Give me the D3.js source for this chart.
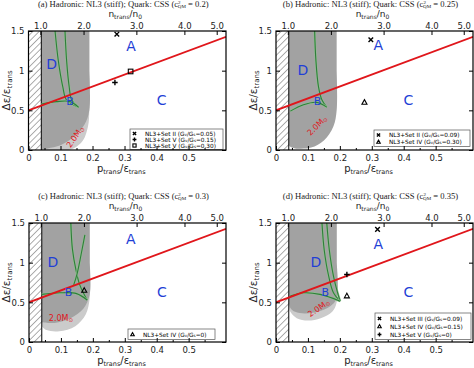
<!DOCTYPE html>
<html><head><meta charset="utf-8">
<script src="https://cdn.jsdelivr.net/npm/d3@7"></script>
<style>
body{margin:0;background:#fff;}
svg{display:block;}
</style></head>
<body>
<svg id="c" width="474" height="368"></svg>
<script>
// ---------- data ----------
const panelIds = ["a","b","c","d"];
const c2Values = ["0.2","0.25","0.3","0.35"];
const xTicks = [0,0.1,0.2,0.3,0.4,0.5];
const xMinorTicks = [0.05,0.15,0.25,0.35,0.45,0.55];
const yTicks = [0,0.5,1,1.5];
const yTickLabels = ["0","0.5","1","1.5"];
const nTickLabels = ["1.0","2.0","3.0","4.0","5.0"];
const nTickPos = [0.037,0.172,0.337,0.487,0.588];   // p/eps position of each n_trans/n0 tick
const xMax = 0.617, yMax = 1.5;
const hatchEdge = 0.04;
const seidovIntercept = 0.5, seidovSlope = 1.5;

// lower (curved) boundary of grey regions, from the right edge down and round to the left edge
const lightGrey = [
  [[0.19,1.0],[0.19,0.5],[0.186,0.3],[0.17,0.12],[0.14,0.02],[0.09,-0.02],[0.04,-0.05]],
  null,
  [[0.19,1.0],[0.19,0.55],[0.178,0.35],[0.145,0.2],[0.095,0.135],[0.055,0.15],[0.04,0.2]],
  [[0.19,1.0],[0.19,0.5],[0.176,0.38],[0.14,0.3],[0.1,0.27],[0.065,0.3],[0.045,0.38],[0.04,0.45]]
];
const darkGrey = [
  [[0.19,1.0],[0.19,0.5],[0.175,0.32],[0.14,0.16],[0.1,0.06],[0.06,0.02],[0.04,0.0]],
  [[0.19,1.0],[0.19,0.5],[0.18,0.3],[0.15,0.12],[0.11,0.03],[0.06,0.02],[0.045,0.04],[0.04,0.06]],
  [[0.19,1.0],[0.19,0.6],[0.17,0.42],[0.13,0.3],[0.08,0.24],[0.04,0.25]],
  [[0.19,1.0],[0.19,0.55],[0.17,0.45],[0.13,0.38],[0.09,0.36],[0.06,0.38],[0.045,0.43],[0.04,0.5]]
];
const greenCurves = [
  [ [[0.083,1.5],[0.093,1.13],[0.107,0.8],[0.119,0.63],[0.156,0.54]],
    [[0.114,1.5],[0.119,1.13],[0.127,0.8],[0.135,0.63],[0.156,0.54]],
    [[0.041,0.58],[0.088,0.61],[0.13,0.61],[0.156,0.54]] ],
  [ [[0.121,1.5],[0.125,1.13],[0.133,0.8],[0.144,0.63],[0.159,0.54]],
    [[0.045,0.49],[0.086,0.57],[0.128,0.6],[0.159,0.54]] ],
  [ [[0.131,1.5],[0.136,1.17],[0.147,0.91],[0.159,0.72],[0.182,0.53]],
    [[0.175,1.35],[0.163,1.1],[0.15,0.85],[0.14,0.72]],
    [[0.04,0.6],[0.097,0.62],[0.149,0.61],[0.182,0.53]] ],
  [ [[0.144,1.5],[0.151,1.16],[0.165,0.83],[0.18,0.62],[0.201,0.515]],
    [[0.159,1.5],[0.167,1.16],[0.18,0.83],[0.193,0.62],[0.201,0.515]],
    [[0.045,0.58],[0.086,0.62],[0.138,0.6],[0.201,0.515]] ]
];
// region letters: [letter, x, y]
const regionLetters = [
  [["A",0.32,1.3],["D",0.072,1.07],["B",0.13,0.6],["C",0.416,0.62]],
  [["A",0.32,1.31],["D",0.084,1.0],["B",0.13,0.6],["C",0.415,0.62]],
  [["A",0.319,1.28],["D",0.075,1.0],["B",0.124,0.62],["C",0.416,0.62]],
  [["A",0.32,1.22],["D",0.125,1.0],["B",0.154,0.62],["C",0.415,0.62]]
];
// 2.0 Msun label: [x, y, rotation]
const massLabel = [[0.145,0.17,-55],[0.128,0.31,-45],[0.1,0.3,0],[0.133,0.43,-35]];
// markers: [symbol, x, y]
const markers = [
  [["x",0.276,1.46],["+",0.27,0.85],["s",0.319,0.99]],
  [["x",0.297,1.39],["t",0.277,0.6]],
  [["t",0.173,0.65]],
  [["x",0.318,1.42],["+",0.222,0.85],["t",0.222,0.58]]
];
// legend entries: [symbol, set name, Gv/Gs]
const legends = [
  [["x","NL3+Set II","0.05"],["+","NL3+Set V","0.15"],["s","NL3+Set V","0.30"]],
  [["x","NL3+Set II","0.09"],["t","NL3+Set IV","0.30"]],
  [["t","NL3+Set IV","0"]],
  [["x","NL3+Set III","0.09"],["t","NL3+Set IV","0.15"],["+","NL3+Set V","0"]]
];
// ---------- layout ----------
const boxes = [
  {L:28.5,R:226,T:31,B:150},
  {L:276,R:473,T:31,B:150},
  {L:29,R:226,T:223,B:342},
  {L:276,R:473,T:223,B:342}
];
const legendBoxes = [
  {x:130,y:129,w:93,row:6},
  {x:374,y:130,w:96,row:7},
  {x:128,y:329,w:87,row:8},
  {x:375,y:313,w:96,row:8}
];

const svg = d3.select("#c");
const defs = svg.append("defs");
const pat = defs.append("pattern").attr("id","hatch").attr("patternUnits","userSpaceOnUse")
  .attr("width",4.5).attr("height",4.5).attr("patternTransform","rotate(45)");
pat.append("rect").attr("width",4.5).attr("height",4.5).attr("fill","#fff");
pat.append("line").attr("x1",0).attr("y1",0).attr("x2",0).attr("y2",4.5).attr("stroke","#333").attr("stroke-width",0.8);

function drawMarker(g, sym, cx, cy, s){
  if(sym==="x"){
    g.append("path").attr("d",`M${cx-s},${cy-s}L${cx+s},${cy+s}M${cx-s},${cy+s}L${cx+s},${cy-s}`)
      .attr("stroke","#000").attr("stroke-width",1.4);
  } else if(sym==="+"){
    g.append("path").attr("d",`M${cx-s*1.2},${cy}L${cx+s*1.2},${cy}M${cx},${cy-s*1.2}L${cx},${cy+s*1.2}`)
      .attr("stroke","#000").attr("stroke-width",1.4);
  } else if(sym==="s"){
    g.append("rect").attr("x",cx-s).attr("y",cy-s).attr("width",2*s).attr("height",2*s)
      .attr("fill","none").attr("stroke","#000").attr("stroke-width",1.1);
  } else if(sym==="t"){
    g.append("path").attr("d",`M${cx},${cy-s*1.2}L${cx+s*1.1},${cy+s*0.8}L${cx-s*1.1},${cy+s*0.8}Z`)
      .attr("fill","none").attr("stroke","#000").attr("stroke-width",1.1);
  }
}

panelIds.forEach((pid,i)=>{
  const b = boxes[i];
  const x = d3.scaleLinear().domain([0,xMax]).range([b.L,b.R]);
  const y = d3.scaleLinear().domain([0,yMax]).range([b.B,b.T]);
  const g = svg.append("g");
  const clipId = "clip"+pid;
  defs.append("clipPath").attr("id",clipId).append("rect")
    .attr("x",b.L).attr("y",b.T).attr("width",b.R-b.L).attr("height",b.B-b.T);
  const pg = g.append("g").attr("clip-path",`url(#${clipId})`);
  const curve = d3.line().x(d=>x(d[0])).y(d=>y(d[1])).curve(d3.curveCatmullRom.alpha(0.5));
  function greyPath(pts){
    const top = y(yMax+0.2);
    const first = pts[0], last = pts[pts.length-1];
    return `M${x(last[0])},${top}L${x(first[0])},${top}L${x(first[0])},${y(first[1])}` +
      curve(pts).replace(/^M[^CL]*/, "") + `L${x(last[0])},${y(last[1])}Z`;
  }
  if(lightGrey[i]) pg.append("path").attr("d",greyPath(lightGrey[i])).attr("fill","#cbcbcb");
  pg.append("path").attr("d",greyPath(darkGrey[i])).attr("fill","#a2a2a2");
  // hatch
  pg.append("rect").attr("x",x(0)).attr("y",y(yMax)).attr("width",x(hatchEdge)-x(0)).attr("height",y(0)-y(yMax))
    .attr("fill","url(#hatch)");
  pg.append("line").attr("x1",x(hatchEdge)).attr("x2",x(hatchEdge)).attr("y1",y(0)).attr("y2",y(yMax))
    .attr("stroke","#000").attr("stroke-width",1);
  // green curves
  const gl = d3.line().x(d=>x(d[0])).y(d=>y(d[1])).curve(d3.curveCatmullRom.alpha(0.5));
  greenCurves[i].forEach(c=>{
    pg.append("path").attr("d",gl(c)).attr("fill","none").attr("stroke","#8fc08f").attr("stroke-width",2.2);
    pg.append("path").attr("d",gl(c)).attr("fill","none").attr("stroke","#2f7d3a").attr("stroke-width",1.1);
  });
  // red Seidov line
  pg.append("line").attr("x1",x(0)).attr("y1",y(seidovIntercept))
    .attr("x2",x(xMax)).attr("y2",y(seidovIntercept+seidovSlope*xMax))
    .attr("stroke","#e0161b").attr("stroke-width",1.8);
  // mass label
  const ml = massLabel[i];
  const mt = pg.append("text").attr("transform",`translate(${x(ml[0])},${y(ml[1])}) rotate(${ml[2]})`)
    .attr("text-anchor","middle").attr("dominant-baseline","middle")
    .attr("font-family","DejaVu Sans, sans-serif").attr("font-size",8).attr("fill","#e0161b");
  mt.append("tspan").text("2.0M");
  mt.append("tspan").attr("font-size",5.5).attr("dy",2).text("⊙");
  // region letters
  regionLetters[i].forEach(r=>{
    pg.append("text").attr("x",x(r[1])).attr("y",y(r[2])).attr("text-anchor","middle").attr("dominant-baseline","middle")
      .attr("font-family","DejaVu Sans, sans-serif").attr("font-size",r[0]==="B"?11:14).attr("fill","#1f3fd6").text(r[0]);
  });
  // markers
  markers[i].forEach(m=>drawMarker(pg,m[0],x(m[1]),y(m[2]),2.3));
  // legend
  const lb = legendBoxes[i], ents = legends[i];
  const lg = g.append("g");
  lg.append("rect").attr("x",lb.x).attr("y",lb.y).attr("width",lb.w).attr("height",ents.length*lb.row+2.5)
    .attr("fill","#fff").attr("stroke","#555").attr("stroke-width",0.7);
  ents.forEach((e,k)=>{
    const cy = lb.y+1.5+lb.row*(k+0.5);
    drawMarker(lg,e[0],lb.x+4.5,cy,1.6);
    const t = lg.append("text").attr("x",lb.x+15).attr("y",cy).attr("dominant-baseline","middle")
      .attr("font-family","DejaVu Sans, sans-serif").attr("font-size",5.8).attr("fill","#000");
    t.append("tspan").text(e[1]+" (G");
    t.append("tspan").attr("font-size",4).attr("dy",1.2).text("v");
    t.append("tspan").attr("dy",-1.2).text("/G");
    t.append("tspan").attr("font-size",4).attr("dy",1.2).text("s");
    t.append("tspan").attr("dy",-1.2).text("="+e[2]+")");
  });
  // frame
  g.append("rect").attr("x",b.L).attr("y",b.T).attr("width",b.R-b.L).attr("height",b.B-b.T)
    .attr("fill","none").attr("stroke","#000").attr("stroke-width",1.2);
  // axes (ticks inward)
  const fontAx = "DejaVu Sans, sans-serif";
  const xa = g.append("g").attr("transform",`translate(0,${b.B})`)
    .call(d3.axisBottom(x).tickValues(xTicks).tickSize(-4).tickPadding(5).tickFormat(d=>d===0?"0":d3.format(".1f")(d)));
  xa.select(".domain").remove();
  xa.selectAll("text").attr("font-family",fontAx).attr("font-size",8.5).attr("fill","#222");
  const xm = g.append("g").attr("transform",`translate(0,${b.B})`)
    .call(d3.axisBottom(x).tickValues(xMinorTicks).tickSize(-2).tickFormat(""));
  xm.select(".domain").remove();
  const ya = g.append("g").attr("transform",`translate(${b.L},0)`)
    .call(d3.axisLeft(y).tickValues(yTicks).tickSize(-4).tickPadding(4).tickFormat((d,k)=>yTickLabels[k]));
  ya.select(".domain").remove();
  ya.selectAll("text").attr("font-family",fontAx).attr("font-size",8.5).attr("fill","#222");
  const xt = g.append("g").attr("transform",`translate(0,${b.T})`)
    .call(d3.axisTop(x).tickValues(nTickPos).tickSize(-4).tickPadding(2).tickFormat((d,k)=>nTickLabels[k]));
  xt.select(".domain").remove();
  xt.selectAll("text").attr("font-family",fontAx).attr("font-size",8.5).attr("fill","#222");
  // right axis ticks
  const yr = g.append("g").attr("transform",`translate(${b.R},0)`)
    .call(d3.axisRight(y).tickValues(yTicks).tickSize(-4).tickFormat(""));
  yr.select(".domain").remove();
  // axis titles
  const cx = (b.L+b.R)/2 - 6;
  const bt = g.append("text").attr("x",cx).attr("y",b.B+22).attr("text-anchor","middle")
    .attr("font-family",fontAx).attr("font-size",10).attr("fill","#222");
  bt.append("tspan").text("p");
  bt.append("tspan").attr("font-size",6.5).attr("dy",1.5).text("trans");
  bt.append("tspan").attr("dy",-1.5).text("/ε");
  bt.append("tspan").attr("font-size",6.5).attr("dy",1.5).text("trans");
  const tt = g.append("text").attr("x",cx+4).attr("y",b.T-14).attr("text-anchor","middle")
    .attr("font-family",fontAx).attr("font-size",9).attr("fill","#222");
  tt.append("tspan").text("n");
  tt.append("tspan").attr("font-size",6).attr("dy",1.5).text("trans");
  tt.append("tspan").attr("dy",-1.5).text("/n");
  tt.append("tspan").attr("font-size",6).attr("dy",1.5).text("0");
  const yt = g.append("text").attr("transform",`translate(${b.L-19},${(b.T+b.B)/2}) rotate(-90)`)
    .attr("text-anchor","middle").attr("font-family",fontAx).attr("font-size",10.5).attr("fill","#222");
  yt.append("tspan").text("Δε/ε");
  yt.append("tspan").attr("font-size",7).attr("dy",2).text("trans");
  // panel title
  const ti = g.append("text").attr("x",(b.L+b.R)/2 - 4).attr("y",b.T-24.5).attr("text-anchor","middle")
    .attr("font-family","Liberation Serif, serif").attr("font-size",8.6).attr("fill","#222");
  ti.append("tspan").text(`(${pid}) Hadronic: NL3 (stiff); Quark: CSS (c`);
  ti.append("tspan").attr("font-size",5).attr("dy",-3).text("2");
  ti.append("tspan").attr("font-size",5).attr("dx",-2.8).attr("dy",4.5).text("QM");
  ti.append("tspan").attr("dy",-1.5).text(` = ${c2Values[i]})`);
});
</script>
</body></html>
